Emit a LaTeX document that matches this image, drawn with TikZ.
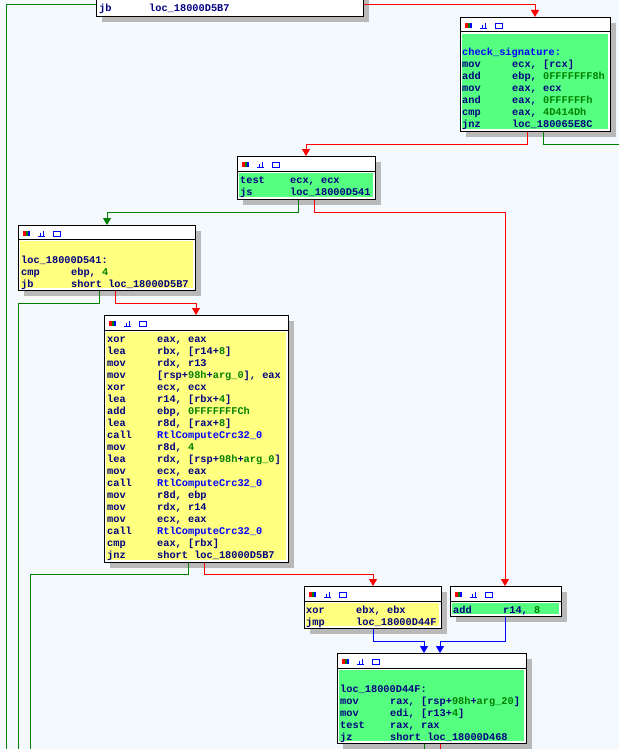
\documentclass[tikz,border=0pt]{standalone}
\usepackage{fontspec}
\newfontfamily\idamono{Liberation Mono}
\usetikzlibrary{arrows.meta,calc}
\definecolor{bg}{HTML}{F3F9FC}
\definecolor{navy}{HTML}{000080}
\definecolor{numg}{HTML}{008000}
\definecolor{blkgreen}{HTML}{55FF80}
\definecolor{blkyellow}{HTML}{FFFF80}
\definecolor{ered}{HTML}{FF0000}
\definecolor{egreen}{HTML}{007F00}
\definecolor{eblue}{HTML}{0000FF}
\newcommand{\Nm}[1]{\textcolor{numg}{#1}}
\newcommand{\Bn}[1]{\textcolor{eblue}{#1}}
\newcounter{tl}
\tikzset{
  txt/.style={inner sep=0pt,anchor=base west,text=navy,font=\idamono\bfseries\fontsize{10.3}{12}\selectfont},
  edge/.style={line width=1pt,-{Triangle[width=8pt,length=7pt]}},
  plain/.style={line width=1pt},
  box/.style={draw=black,line width=1.2pt,inner sep=0pt,anchor=north west,fill=white}
}
% \Blk{name}{x1}{y1}{x2}{y2}{hdr}{color}
\newcommand{\Blk}[7]{%
  \fill[gray!55] (#2+6,#3+6) rectangle (#4+6,#5+6);
  \node[box,minimum width=#4pt-#2pt,minimum height=#5pt-#3pt] (#1) at (#2,#3) {};
  \draw[line width=1pt] (#2,#6) -- (#4,#6);
  \fill[#7] (#2+2,#6+2) rectangle (#4-2,#5-2);
  \fill[red] (#2+5,#3+6) rectangle (#2+8,#3+11);
  \fill[numg] (#2+8,#3+6) rectangle (#2+10,#3+11);
  \fill[eblue] (#2+10,#3+6) rectangle (#2+12,#3+11);
  \draw[eblue,line width=0.7pt] (#2+20,#3+11) -- (#2+27,#3+11) (#2+22,#3+11) -- (#2+22,#3+8) (#2+25,#3+11)--(#2+25,#3+6);
  \draw[eblue,line width=0.8pt] (#2+35,#3+6) rectangle (#2+42,#3+11);
}
\newcommand{\Ln}[4]{\stepcounter{tl}\node[txt] (t\thetl) at (#1,#2+4) {\makebox[50pt][l]{#3}#4};}
\begin{document}
\begin{tikzpicture}[x=1pt,y=-1pt]
\useasboundingbox (0,0) rectangle (619,749);
\fill[bg] (0,0) rectangle (619,749);
\begin{scope}
\clip (0,0) rectangle (619,749);
% top block
\fill[gray!55] (102,-30) rectangle (369,22);
\node[box,minimum width=267pt,minimum height=46pt] (top) at (96,-30) {};
\Ln{99}{8}{jb}{loc\_18000D5B7}
% blocks
\Blk{cs}{460}{17}{610}{131}{32}{blkgreen}
\Blk{ts}{237}{156}{375}{199}{171}{blkgreen}
\Blk{da}{18}{225}{195}{290}{239}{blkyellow}
\Blk{bg}{104}{315}{288}{562}{330}{blkyellow}
\Blk{xb}{304}{586}{441}{628}{601}{blkyellow}
\Blk{ad}{450}{586}{561}{616}{601}{blkgreen}
\Blk{dl}{337}{653}{526}{743}{668}{blkgreen}
% texts
\stepcounter{tl}\node[txt,text=eblue] (t\thetl) at (462,56) {check\_signature:};
\Ln{462}{64}{mov}{ecx, [rcx]}
\Ln{462}{76}{add}{ebp, \Nm{0FFFFFFF8h}}
\Ln{462}{88}{mov}{eax, ecx}
\Ln{462}{100}{and}{eax, \Nm{0FFFFFFh}}
\Ln{462}{112}{cmp}{eax, \Nm{4D414Dh}}
\Ln{462}{124}{jnz}{loc\_180065E8C}
\Ln{240}{179}{test}{ecx, ecx}
\Ln{240}{191}{js}{loc\_18000D541}
\stepcounter{tl}\node[txt] (t\thetl) at (21,263) {loc\_18000D541:};
\Ln{21}{271}{cmp}{ebp, \Nm{4}}
\Ln{21}{283}{jb}{short loc\_18000D5B7}
\Ln{107}{338}{xor}{eax, eax}
\Ln{107}{350}{lea}{rbx, [r14+\Nm{8}]}
\Ln{107}{362}{mov}{rdx, r13}
\Ln{107}{374}{mov}{[rsp+\Nm{98h}+\Nm{arg\_0}], eax}
\Ln{107}{386}{xor}{ecx, ecx}
\Ln{107}{398}{lea}{r14, [rbx+\Nm{4}]}
\Ln{107}{410}{add}{ebp, \Nm{0FFFFFFFCh}}
\Ln{107}{422}{lea}{r8d, [rax+\Nm{8}]}
\Ln{107}{434}{call}{\Bn{RtlComputeCrc32\_0}}
\Ln{107}{446}{mov}{r8d, \Nm{4}}
\Ln{107}{458}{lea}{rdx, [rsp+\Nm{98h}+\Nm{arg\_0}]}
\Ln{107}{470}{mov}{ecx, eax}
\Ln{107}{482}{call}{\Bn{RtlComputeCrc32\_0}}
\Ln{107}{494}{mov}{r8d, ebp}
\Ln{107}{506}{mov}{rdx, r14}
\Ln{107}{518}{mov}{ecx, eax}
\Ln{107}{530}{call}{\Bn{RtlComputeCrc32\_0}}
\Ln{107}{542}{cmp}{eax, [rbx]}
\Ln{107}{554}{jnz}{short loc\_18000D5B7}
\Ln{306}{609}{xor}{ebx, ebx}
\Ln{306}{621}{jmp}{loc\_18000D44F}
\Ln{453}{609}{add}{r14, \Nm{8}}
\stepcounter{tl}\node[txt] (t\thetl) at (340,692) {loc\_18000D44F:};
\Ln{340}{700}{mov}{rax, [rsp+\Nm{98h}+\Nm{arg\_20}]}
\Ln{340}{712}{mov}{edi, [r13+\Nm{4}]}
\Ln{340}{724}{test}{rax, rax}
\Ln{340}{736}{jz}{short loc\_18000D468}
% connectors
\coordinate (offR) at (619,144);
\coordinate (botA) at (6,749);
\coordinate (botB) at (18,749);
\coordinate (botC) at (30,749);
\coordinate (botG) at (424,749);
\coordinate (botR) at (440,749);
\draw[edge,ered] (top.north east |- 0,5) -- (535,5) -- (cs.north west -| 535,0);
\draw[plain,egreen] (top.north west |- 0,5) -- (6,5) -- (botA);
\draw[edge,ered] (cs.south west -| 527,0) -- (527,144) -- (306,144) -- (ts.north west -| 306,0);
\draw[plain,egreen] (cs.south west -| 543,0) -- (543,144) -- (offR);
\draw[edge,egreen] (ts.south west -| 298,0) -- (298,212) -- (107,212) -- (da.north west -| 107,0);
\draw[edge,ered] (ts.south west -| 314,0) -- (314,212) -- (505,212) -- (ad.north west -| 505,0);
\draw[plain,egreen] (da.south west -| 99,0) -- (99,303) -- (18,303) -- (botB);
\draw[edge,ered] (da.south west -| 115,0) -- (115,303) -- (196,303) -- (bg.north west -| 196,0);
\draw[plain,egreen] (bg.south west -| 188,0) -- (188,574) -- (30,574) -- (botC);
\draw[edge,ered] (bg.south west -| 204,0) -- (204,574) -- (373,574) -- (xb.north west -| 373,0);
\draw[edge,eblue] (xb.south west -| 373,0) -- (373,641) -- (424,641) -- (dl.north west -| 424,0);
\draw[edge,eblue] (ad.south west -| 505,0) -- (505,641) -- (440,641) -- (dl.north west -| 440,0);
\draw[plain,egreen] (dl.south west -| 424,0) -- (botG);
\draw[plain,ered] (dl.south west -| 440,0) -- (botR);
\end{scope}
\end{tikzpicture}
\end{document}
